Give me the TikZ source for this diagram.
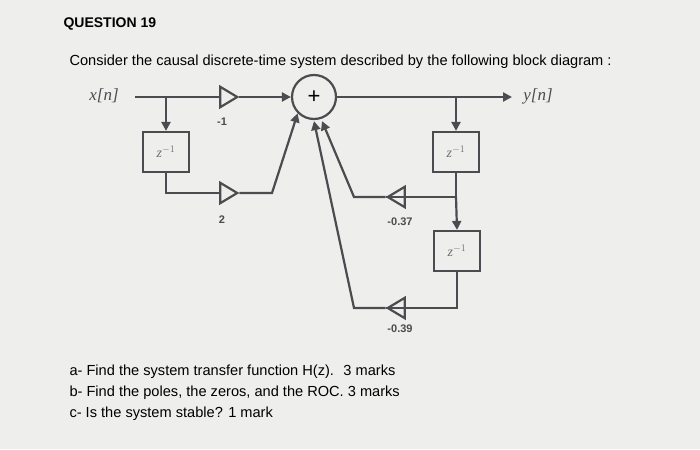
\documentclass[tikz,border=0pt]{standalone}
\usepackage{fontspec}
\setmainfont{Liberation Sans}
\newfontfamily\mathserif{Liberation Serif}
\usetikzlibrary{positioning, shapes.geometric, arrows.meta, calc}
\definecolor{paper}{RGB}{238,238,236}
\definecolor{ink}{RGB}{75,75,80}

\begin{document}
\begin{tikzpicture}[x=1pt, y=-1pt, font=\fontsize{14.6}{17}\selectfont,
delay/.style={rectangle, draw=ink, line width=2.2pt, minimum width=46pt, minimum height=40pt, inner sep=0pt, text=ink!80, font=\fontsize{14}{14}\selectfont},
gain/.style={isosceles triangle, draw=ink, line width=2.2pt, isosceles triangle apex angle=62, minimum height=17pt, inner sep=0pt, shape border rotate=#1},
gainlbl/.style={font=\fontsize{11}{13}\selectfont\bfseries, text=ink},
wire/.style={draw=ink, line width=2.2pt},
arrow/.style={wire, -{Triangle[length=9pt, width=9pt]}}
]
\fill[paper] (0,0) rectangle (700,449);
\useasboundingbox (0,0) rectangle (700,449);

% Texts
\node[anchor=west, font=\fontsize{14}{16}\selectfont\bfseries] (title) at (60,24) {QUESTION 19};
\node[anchor=west] (intro) at (66,62) {Consider the causal discrete-time system described by the following block diagram :};
\node[anchor=west] (qa) at (66,372) {a- Find the system transfer function H(z).~ 3 marks};
\node[anchor=west] (qb) at (66,393) {b- Find the poles, the zeros, and the ROC. 3 marks};
\node[anchor=west] (qc) at (66,414) {c- Is the system stable? 1 mark};

% Blocks
\node[text=ink, font=\fontsize{17}{17}\selectfont] (x) at (104,96) {\mathserif\itshape x[n]};
\node[text=ink, font=\fontsize{17}{17}\selectfont] (y) at (538,96) {\mathserif\itshape y[n]};
\node[circle, draw=ink, line width=2.2pt, minimum size=44pt, inner sep=0pt, font=\fontsize{22}{22}\selectfont] (sum) at (314,97) {+};
\node[delay] (d1) at (166,152) {\mathserif\itshape z$^{-1}$};
\node[delay] (d2) at (456,152) {\mathserif\itshape z$^{-1}$};
\node[delay] (d3) at (457,251) {\mathserif\itshape z$^{-1}$};
\node[gain=0] (g1) at (226,97) {};
\node[gain=0] (g2) at (226,193) {};
\node[gain=180] (g3) at (399,197) {};
\node[gain=180] (g4) at (399,308) {};
\node[gainlbl] (l1) at (222,122) {-1};
\node[gainlbl] (l2) at (222,220) {2};
\node[gainlbl] (l3) at (400,222) {-0.37};
\node[gainlbl] (l4) at (400,329) {-0.39};
\coordinate (xs) at (135,97);
\coordinate (ye) at (512,97);
\coordinate (jd) at (456,197);

% Arrows
\draw[wire] (xs) -- (g1.west);
\draw[arrow] (166,97) -- (d1.north);
\draw[arrow] (g1.apex) -- (sum.west);
\draw[wire] (d1.south) |- (g2.west);
\draw[arrow] (g2.apex) -- (272,193) -- (sum.south west);
\draw[arrow] (sum.east) -- (ye);
\draw[arrow] (456,97) -- (d2.north);
\draw[wire] (d2.south) -- (jd);
\draw[arrow] (jd) -- (d3.north);
\draw[wire] (jd) -- (g3.west);
\draw[arrow] (g3.apex) -- (354,197) -- ($(sum.south)+(8,1)$);
\draw[wire] (d3.south) |- (g4.west);
\draw[arrow] (g4.apex) -- (354,308) -- ($(sum.south)+(0,1)$);
\end{tikzpicture}
\end{document}
